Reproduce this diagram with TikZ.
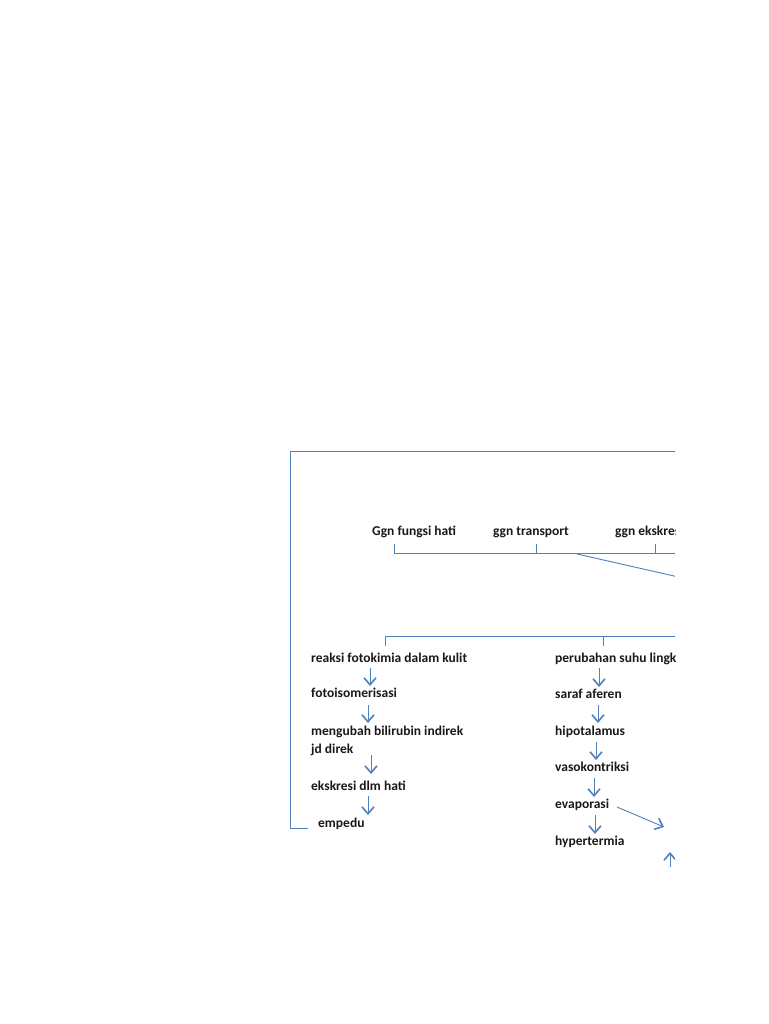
\documentclass[tikz,border=0pt]{standalone}
\usepackage{fontspec}
\setmainfont{Carlito}
\usetikzlibrary{arrows.meta}
\definecolor{lineblue}{HTML}{4F81BD}
\tikzset{
  lbl/.style={anchor=base west,inner sep=0pt,font=\fontsize{13.5}{16}\selectfont\bfseries,text=black!90},
  ln/.style={draw=lineblue,line width=0.9pt},
  arr/.style={draw=lineblue,line width=0.9pt,-{Straight Barb[length=7pt,width=12pt,line width=1.6pt]}}
}
\begin{document}
\begin{tikzpicture}[x=1pt,y=-1pt]
\useasboundingbox (0,0) rectangle (768,1024);
\fill[white] (0,0) rectangle (768,1024);
\begin{scope}
\clip (0,0) rectangle (675,1024);
% frame
\coordinate (f1) at (308,828);
\coordinate (f2) at (290,828);
\coordinate (f3) at (290,451);
\coordinate (f4) at (780,451);
\draw[ln] (f1) -- (f2) -- (f3) -- (f4);
% top labels
\node[lbl] (g1) at (372,535) {Ggn fungsi hati};
\node[lbl] (g2) at (493,535) {ggn transport};
\node[lbl] (g3) at (615,535) {ggn ekskresi};
% top bracket
\coordinate (b1) at (394,544);
\coordinate (b2) at (394,553);
\coordinate (b3) at (780,553);
\coordinate (t2a) at (536,544);
\coordinate (t2b) at (536,553);
\coordinate (t3a) at (655,544);
\coordinate (t3b) at (655,553);
\draw[ln] (b1) -- (b2) -- (b3);
\draw[ln] (t2a) -- (t2b);
\draw[ln] (t3a) -- (t3b);
\coordinate (s1) at (577,554);
\coordinate (s2) at (780,600);
\draw[ln] (s1) -- (s2);
% second bracket
\coordinate (c1) at (385,646);
\coordinate (c2) at (385,636);
\coordinate (c3) at (780,636);
\coordinate (u1) at (603,636);
\coordinate (u2) at (603,646);
\draw[ln] (c1) -- (c2) -- (c3);
\draw[ln] (u1) -- (u2);
% left column
\node[lbl] (l1) at (311,662) {reaksi fotokimia dalam kulit};
\node[lbl] (l2) at (311,697) {fotoisomerisasi};
\node[lbl] (l3) at (311,735) {mengubah bilirubin indirek};
\node[lbl] (l3b) at (311,753) {jd direk};
\node[lbl] (l4) at (311,790) {ekskresi dlm hati};
\node[lbl] (l5) at (318,827) {empedu};
\coordinate (la1) at (370,668); \coordinate (la2) at (370,686);
\coordinate (lb1) at (368,705); \coordinate (lb2) at (368,723);
\coordinate (lc1) at (371,755); \coordinate (lc2) at (371,774);
\coordinate (ld1) at (368,796); \coordinate (ld2) at (368,815);
\draw[arr] (la1) -- (la2);
\draw[arr] (lb1) -- (lb2);
\draw[arr] (lc1) -- (lc2);
\draw[arr] (ld1) -- (ld2);
% right column
\node[lbl] (r1) at (555,662) {perubahan suhu lingkungan};
\node[lbl] (r2) at (555,698) {saraf aferen};
\node[lbl] (r3) at (555,735) {hipotalamus};
\node[lbl] (r4) at (555,771) {vasokontriksi};
\node[lbl] (r5) at (555,808) {evaporasi};
\node[lbl] (r6) at (555,845) {hypertermia};
\coordinate (ra1) at (599,668); \coordinate (ra2) at (599,687);
\coordinate (rb1) at (598,705); \coordinate (rb2) at (598,723);
\coordinate (rc1) at (596,742); \coordinate (rc2) at (596,760);
\coordinate (rd1) at (594,778); \coordinate (rd2) at (594,797);
\coordinate (re1) at (595,815); \coordinate (re2) at (595,834);
\draw[arr] (ra1) -- (ra2);
\draw[arr] (rb1) -- (rb2);
\draw[arr] (rc1) -- (rc2);
\draw[arr] (rd1) -- (rd2);
\draw[arr] (re1) -- (re2);
\coordinate (x1) at (617,807); \coordinate (x2) at (664,827);
\draw[arr] (x1) -- (x2);
\coordinate (y1) at (670,867); \coordinate (y2) at (670,852);
\draw[arr] (y1) -- (y2);
\end{scope}
\end{tikzpicture}
\end{document}
